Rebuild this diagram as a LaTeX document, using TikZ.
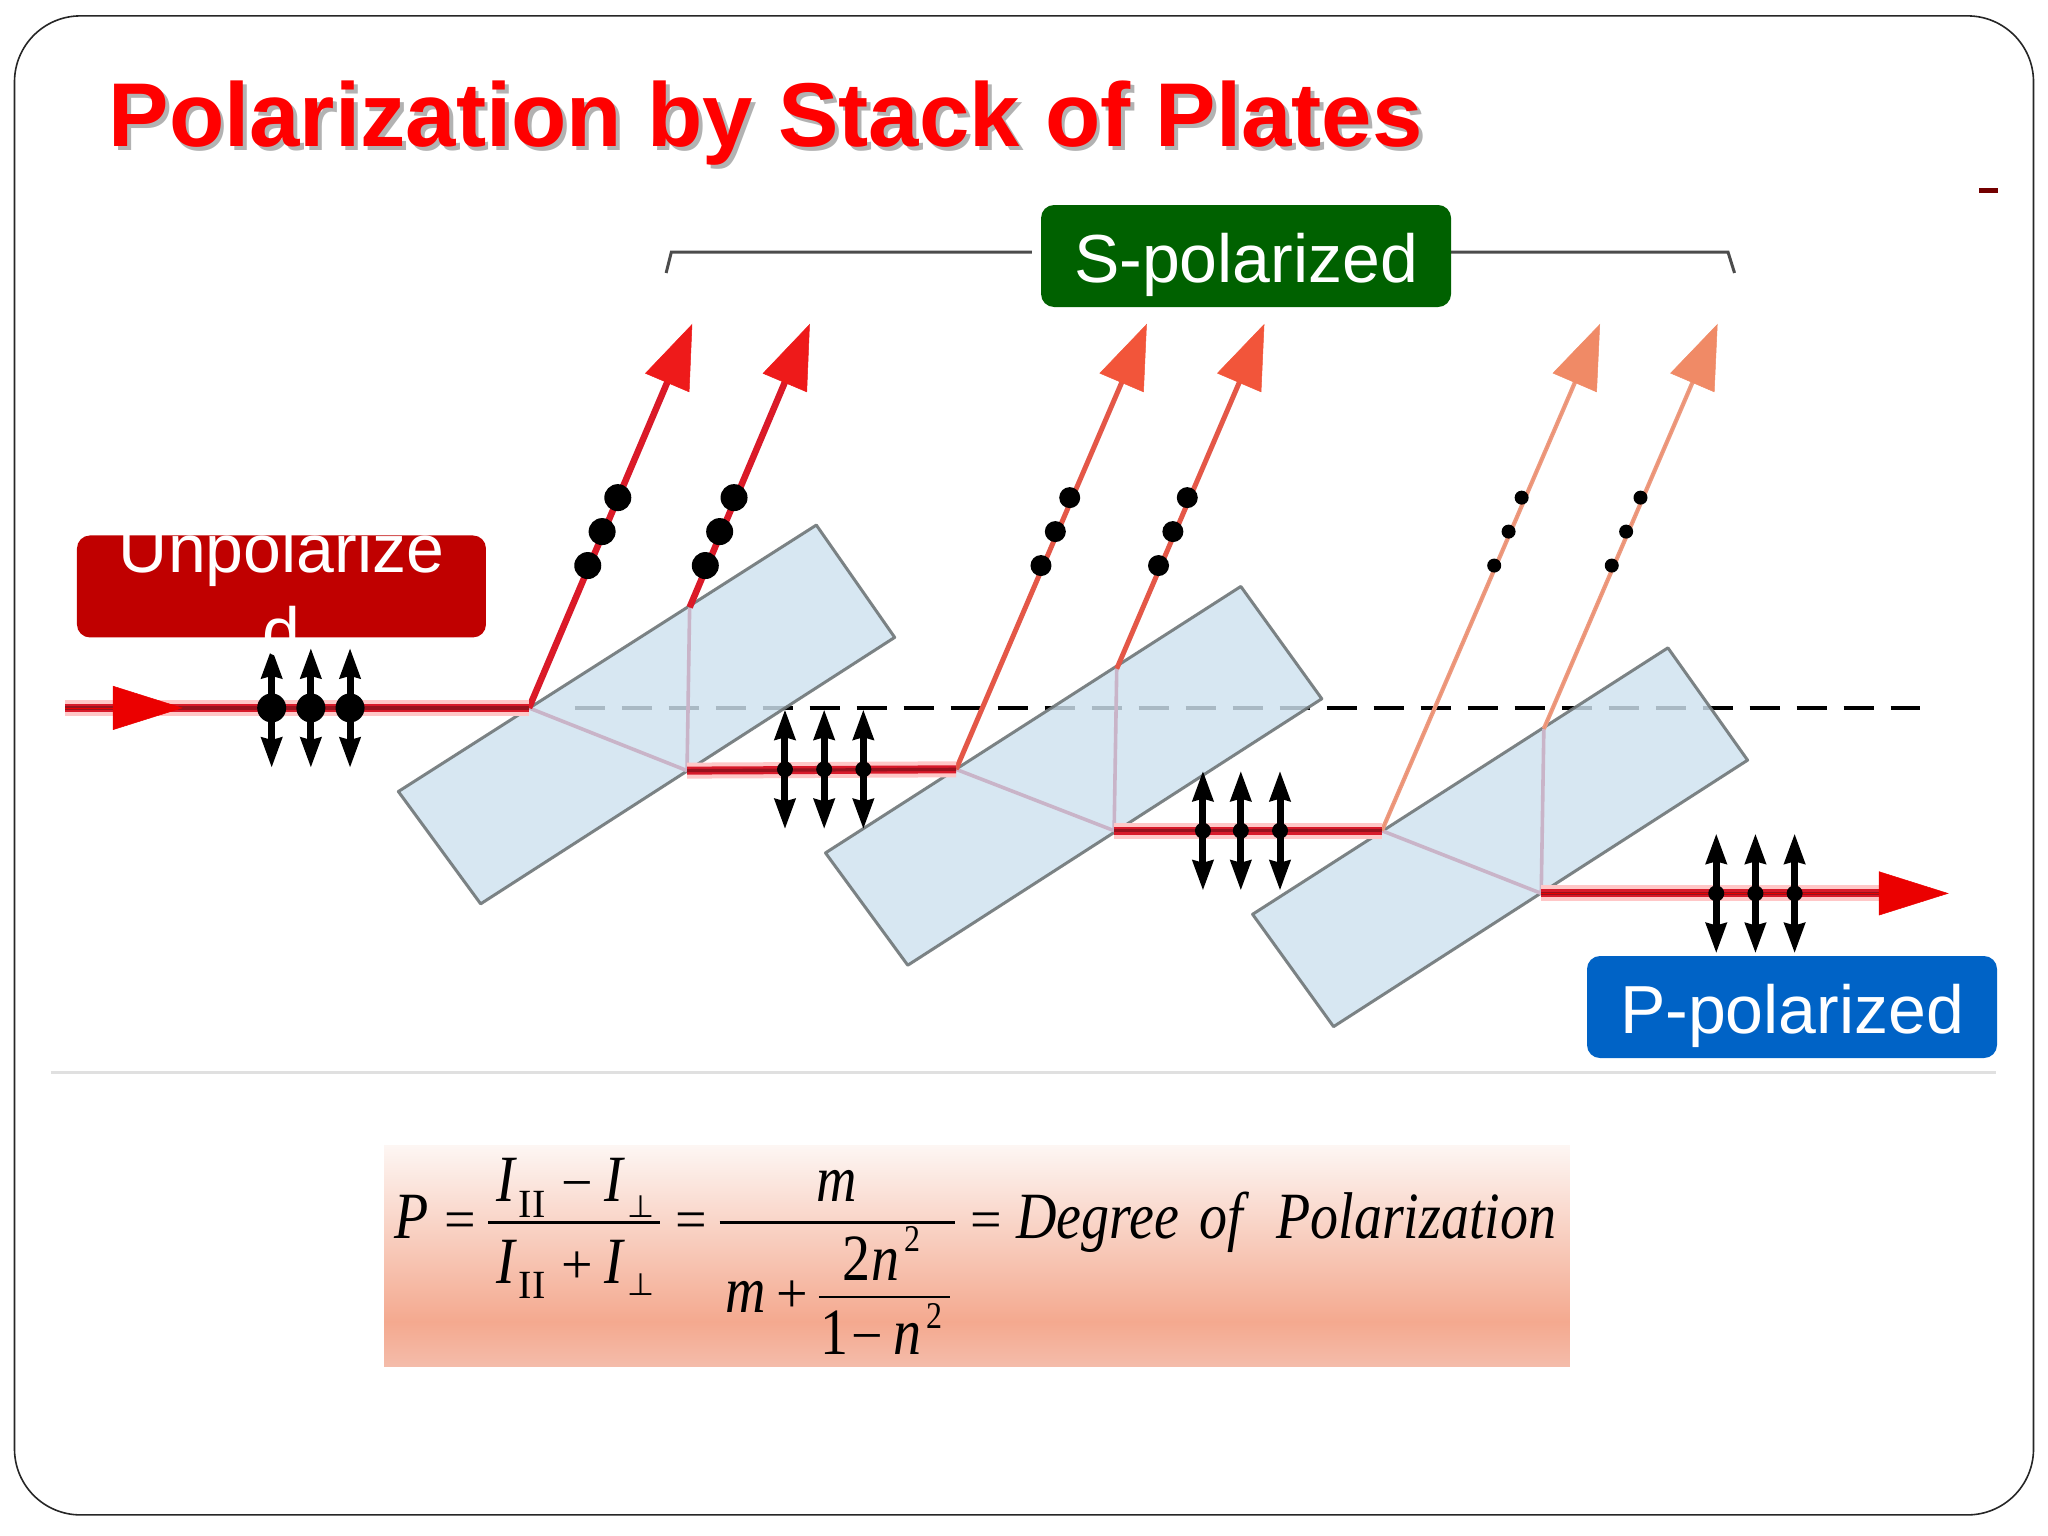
\documentclass[tikz,border=0pt]{standalone}
\usepackage{fontspec}
\setmainfont{Liberation Sans}
\newfontfamily\timesf{Liberation Serif}
\newfontfamily\dejaf{DejaVu Sans}
\usetikzlibrary{arrows.meta}
\definecolor{plate}{HTML}{CFE2F0}
\definecolor{platee}{HTML}{6F7678}
\definecolor{inner}{HTML}{C9B4C8}
\definecolor{sgreen}{HTML}{006100}
\definecolor{pblue}{HTML}{0063C6}
\definecolor{ured}{HTML}{C00000}
\definecolor{rayA}{HTML}{D81A2A}
\definecolor{rayB}{HTML}{E2584A}
\definecolor{rayC}{HTML}{EC9A80}
\definecolor{headA}{HTML}{EE1A1A}
\definecolor{headB}{HTML}{F2553A}
\definecolor{headC}{HTML}{F08A66}
\definecolor{peachA}{HTML}{FDF6F3}
\definecolor{peachB}{HTML}{F4A98F}
\definecolor{peachC}{HTML}{F4BCAA}
\newcommand\tallglyph[1]{\scalebox{1}[1.18]{#1}}
\tikzset{
  plateshape/.style={draw=platee,line width=3pt,fill=plate,fill opacity=.82,draw opacity=.9,line join=round},
  innerline/.style={draw=inner,line width=3.6pt},
  beam/.style={draw=rayA,line width=8pt,
    preaction={draw=red!22,line width=16pt},
    postaction={draw=rayA!70!black,line width=3.2pt}},
  rayOne/.style={draw=rayA,line width=6.5pt},
  rayTwo/.style={draw=rayB,line width=5pt},
  rayThree/.style={draw=rayC,line width=4.2pt},
  tipOne/.style={draw=headA,line width=.5pt,-{Triangle[length=64pt,width=48pt]}},
  tipTwo/.style={draw=headB,line width=.5pt,-{Triangle[length=64pt,width=48pt]}},
  tipThree/.style={draw=headC,line width=.5pt,-{Triangle[length=64pt,width=48pt]}},
  tipBeam/.style={draw=red!92!black,line width=.5pt,-{Triangle[length=70pt,width=44pt]}},
  pol/.style={draw=black,line width=7pt,{Stealth[length=30pt,width=20pt,inset=2pt]}-{Stealth[length=30pt,width=20pt,inset=2pt]}},
  label/.style={fill=#1,rounded corners=13pt,draw=none},
  labeltext/.style={text=white,font=\fontsize{68}{78}\selectfont,inner sep=0pt,anchor=base},
  eq/.style={anchor=base west,inner sep=0pt,font=\timesf\itshape\fontsize{56}{60}\selectfont},
  eqr/.style={anchor=base west,inner sep=0pt,font=\timesf\fontsize{56}{60}\selectfont},
  eqs/.style={anchor=base west,inner sep=0pt,font=\timesf\fontsize{32}{36}\selectfont},
  eqi/.style={anchor=base west,inner sep=0pt,font=\timesf\fontsize{40}{44}\selectfont},
  eqp/.style={anchor=base west,inner sep=0pt,font=\dejaf\fontsize{31}{34}\selectfont},
  bar/.style={draw=black,line width=2.4pt},
  bracketline/.style={draw=black!70,line width=3pt},
  dashline/.style={draw=black,line width=3.6pt,dash pattern=on 30pt off 17pt},
  dotA/.style={circle,fill=black,inner sep=0pt,minimum size=27pt},
  dotB/.style={circle,fill=black,inner sep=0pt,minimum size=21pt},
  dotC/.style={circle,fill=black,inner sep=0pt,minimum size=14pt},
  dotP/.style={circle,fill=black,inner sep=0pt,minimum size=20pt},
}
\begin{document}
\begin{tikzpicture}[x=1.30612pt,y=-1.30612pt]
\useasboundingbox (0,0) rectangle (1568,1176);
\fill[white] (0,0) rectangle (1568,1176);
\node[draw=black!85,line width=1.6pt,rounded corners=66pt,minimum width=2019pt,minimum height=1499pt,inner sep=0pt] (frame) at (784,586) {};
% separator
\coordinate (sepL) at (39,821); \coordinate (sepR) at (1528,821);
\draw[black!12,line width=2.5pt] (sepL) -- (sepR);
\fill[red!45!black] (1515,144) rectangle (1530,148);
% title
\node[anchor=base west,inner sep=0pt,text=black!30,font=\bfseries\fontsize{90.6}{100}\selectfont] (titleshadow) at (86,115) {Polarization by Stack of Plates};
\node[anchor=base west,inner sep=0pt,text=red,font=\bfseries\fontsize{90.6}{100}\selectfont] (title) at (83,112) {Polarization by Stack of Plates};
% dashed axis
\coordinate (dashL) at (440,542); \coordinate (dashR) at (1470,542);
\draw[dashline] (dashL) -- (dashR);
% plates
\draw[plateshape] (305,606) -- (625,402) -- (685,488) -- (368,692) -- cycle;
\draw[plateshape] (632,653) -- (950,449) -- (1012,535) -- (695,739) -- cycle;
\draw[plateshape] (959,700) -- (1277,496) -- (1338,582) -- (1021,786) -- cycle;
% ray points
\coordinate (in) at (50,542);
\coordinate (A1) at (405,542); \coordinate (B1) at (526,590); \coordinate (C1) at (528,465);
\coordinate (A2) at (732,589); \coordinate (B2) at (853,636); \coordinate (C2) at (855,512);
\coordinate (A3) at (1058,636); \coordinate (B3) at (1180,684); \coordinate (C3) at (1182,558);
\coordinate (out) at (1492,684);
\coordinate (T1a) at (530,248); \coordinate (T1b) at (620,248);
\coordinate (T2a) at (878,248); \coordinate (T2b) at (968,248);
\coordinate (T3a) at (1225,248); \coordinate (T3b) at (1315,248);
% inside plates
\draw[innerline] (A1) -- (B1); \draw[innerline] (B1) -- (C1);
\draw[innerline] (A2) -- (B2); \draw[innerline] (B2) -- (C2);
\draw[innerline] (A3) -- (B3); \draw[innerline] (B3) -- (C3);
% reflected rays
\coordinate (S1a) at (515,283); \coordinate (S1b) at (605,283);
\coordinate (S2a) at (863,283); \coordinate (S2b) at (953,283);
\coordinate (S3a) at (1210,283); \coordinate (S3b) at (1300,283);
\draw[rayOne] (A1) -- (S1a); \draw[rayOne] (C1) -- (S1b);
\draw[rayTwo] (A2) -- (S2a); \draw[rayTwo] (C2) -- (S2b);
\draw[rayThree] (A3) -- (S3a); \draw[rayThree] (C3) -- (S3b);
\draw[tipOne] (A1) -- (T1a); \draw[tipOne] (C1) -- (T1b);
\draw[tipTwo] (A2) -- (T2a); \draw[tipTwo] (C2) -- (T2b);
\draw[tipThree] (A3) -- (T3a); \draw[tipThree] (C3) -- (T3b);
% horizontal beams
\coordinate (inEnd) at (140,542);
\coordinate (outEnd) at (1450,684);
\draw[beam] (in) -- (A1);
\draw[beam] (B1) -- (A2);
\draw[beam] (B2) -- (A3);
\draw[beam] (B3) -- (outEnd);
\draw[tipBeam] (in) -- (inEnd);
\draw[tipBeam] (B3) -- (out);
% dots on reflected rays
\foreach \n/\x/\y in {a/473/381,b/461/407,c/450/433,d/562/381,e/551/407,f/540/433}
  \node[dotA] (dot1\n) at (\x,\y) {};
\foreach \n/\x/\y in {a/819/381,b/808/407,c/797/433,d/909/381,e/898/407,f/887/433}
  \node[dotB] (dot2\n) at (\x,\y) {};
\foreach \n/\x/\y in {a/1165/381,b/1155/407,c/1144/433,d/1256/381,e/1245/407,f/1234/433}
  \node[dotC] (dot3\n) at (\x,\y) {};
% polarization arrows
\foreach \g/\y/\xa/\xb/\xc in {1/542/208/238/268,2/589/601/631/661,3/636/921/950/980,4/684/1314/1344/1374}{
  \foreach \k/\x in {a/\xa,b/\xb,c/\xc}{
    \coordinate (p\g\k t) at (\x,\y-46);
    \coordinate (p\g\k b) at (\x,\y+46);
    \draw[pol] (p\g\k t) -- (p\g\k b);
  }
}
\foreach \k/\x in {a/208,b/238,c/268}
  \node[dotP,minimum size=29pt] (pd1\k) at (\x,542) {};
\foreach \g/\y/\xa/\xb/\xc in {2/589/601/631/661,3/636/921/950/980,4/684/1314/1344/1374}{
  \foreach \k/\x in {a/\xa,b/\xb,c/\xc}
    \node[dotP,minimum size=16pt] (pd\g\k) at (\x,\y) {};
}
% bracket
\coordinate (brA) at (510,209); \coordinate (brB) at (514,193); \coordinate (brC) at (790,193);
\coordinate (brD) at (1110,193); \coordinate (brE) at (1323,193); \coordinate (brF) at (1328,209);
\draw[bracketline] (brA) -- (brB) -- (brC);
\draw[bracketline] (brD) -- (brE) -- (brF);
% label boxes
\node[label=sgreen,minimum width=410pt,minimum height=102pt,inner sep=0pt] (sbox) at (954,196) {};
\node[labeltext] (stext) at (954,216) {S-polarized};
\node[label=pblue,minimum width=410pt,minimum height=102pt,inner sep=0pt] (pbox) at (1372,771) {};
\node[labeltext] (ptext) at (1372,791) {P-polarized};
\node[label=ured,minimum width=409pt,minimum height=102pt,inner sep=0pt] (ubox) at (215.5,449) {};
\node[labeltext] (utext) at (215.5,438) {Unpolarize};
\node[labeltext] (dtext) at (215.5,502) {d};
% formula
\fill[top color=peachA,bottom color=peachB] (294,877) rectangle (1202,1012);
\fill[top color=peachB,bottom color=peachC] (294,1012) rectangle (1202,1046);
\node[eq] (fP) at (302,948) {\tallglyph{P}};
\node[eqr] (feq1) at (340,948) {=};
\node[eq] (n1a) at (380,920) {\tallglyph{I}};
\node[eqi] (n1s) at (397,932) {II};
\node[eqr] (n1m) at (430,920) {−};
\node[eq] (n1b) at (463,920) {\tallglyph{I}};
\node[eqp] (n1p) at (480,932) {⊥};
\coordinate (bar1L) at (374,936); \coordinate (bar1R) at (505,936);
\draw[bar] (bar1L) -- (bar1R);
\node[eq] (d1a) at (380,983) {\tallglyph{I}};
\node[eqi] (d1s) at (397,994) {II};
\node[eqr] (d1m) at (430,983) {+};
\node[eq] (d1b) at (463,983) {\tallglyph{I}};
\node[eqp] (d1p) at (480,992) {⊥};
\node[eqr] (feq2) at (517,948) {=};
\node[eq] (nm) at (625,920) {\tallglyph{m}};
\coordinate (bar2L) at (551,936); \coordinate (bar2R) at (731,936);
\draw[bar] (bar2L) -- (bar2R);
\node[eqr] (n2a) at (645,980) {\tallglyph{2}};
\node[eq] (n2b) at (667,980) {\tallglyph{n}};
\node[eqs] (n2c) at (692,958) {\tallglyph{2}};
\node[eq] (dm) at (555,1005) {\tallglyph{m}};
\node[eqr] (dp) at (594,1005) {+};
\coordinate (bar3L) at (627,993); \coordinate (bar3R) at (727,993);
\draw[bar,line width=1.4pt] (bar3L) -- (bar3R);
\node[eqr] (d3a) at (628,1037) {\tallglyph{1}};
\node[eqr] (d3m) at (652,1037) {−};
\node[eq] (d3n) at (684,1037) {\tallglyph{n}};
\node[eqs] (d3s) at (709,1017) {\tallglyph{2}};
\node[eqr] (feq3) at (743,948) {=};
\node[eq] (deg) at (778,948) {\tallglyph{Degree}};
\node[eq] (of) at (918,948) {\tallglyph{of}};
\node[eq] (polz) at (977,948) {\tallglyph{Polarization}};
\end{tikzpicture}
\end{document}
